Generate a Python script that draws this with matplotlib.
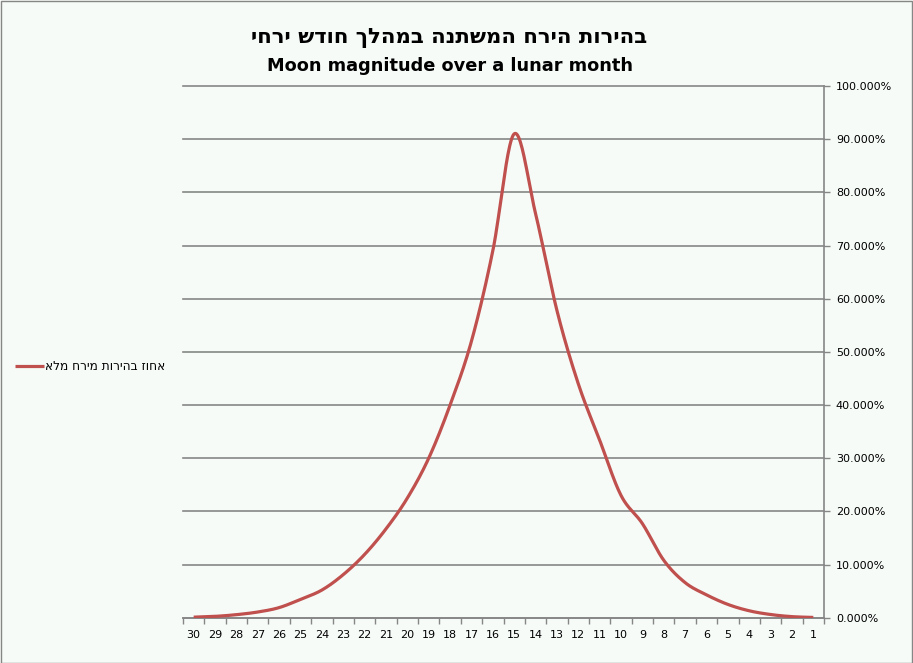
import numpy as np
import matplotlib
matplotlib.use("Agg")
import matplotlib.pyplot as plt
from matplotlib.ticker import FixedLocator, FuncFormatter

# Chart texts (Hebrew kept in logical order, reversed only for drawing)
TITLE_HE = "בהירות הירח המשתנה במהלך חודש ירחי"
TITLE_EN = "Moon magnitude over a lunar month"
SERIES_NAME = "אחוז בהירות מירח מלא"

# Days of the lunar month, shown from 30 down to 1
days = [30, 29, 28, 27, 26, 25, 24, 23, 22, 21, 20, 19, 18, 17, 16,
        15, 14, 13, 12, 11, 10, 9, 8, 7, 6, 5, 4, 3, 2, 1]
# Brightness in percent of full moon, same order as days
brightness = [0.1, 0.25, 0.57, 1.07, 1.9, 3.45, 5.2, 8.1, 11.9, 16.7, 22.5,
              30.0, 40.0, 52.0, 69.0, 91.0, 76.0, 57.8, 44.0, 33.4, 23.0,
              17.7, 10.8, 6.6, 4.3, 2.5, 1.3, 0.6, 0.2, 0.05]
y_ticks = [0, 10, 20, 30, 40, 50, 60, 70, 80, 90, 100]

BG = "#F6FBF8"
GRID = "#868686"
RED = "#C0504D"


def rtl(s):
    #matplotlib has no bidi support, so flip Hebrew for visual order
    return s[::-1]


def smooth(xs, ys, n=24):
    #Catmull-Rom smoothing, like Excel's "smoothed line" option
    xs = np.asarray(xs, float)
    ys = np.asarray(ys, float)
    px = np.concatenate([[xs[0]], xs, [xs[-1]]])
    py = np.concatenate([[ys[0]], ys, [ys[-1]]])
    out_x, out_y = [], []
    t = np.linspace(0, 1, n, endpoint=False)
    for i in range(1, len(px) - 2):
        for p, out in ((px, out_x), (py, out_y)):
            p0, p1, p2, p3 = p[i - 1], p[i], p[i + 1], p[i + 2]
            out.extend(0.5 * (2 * p1 + (-p0 + p2) * t
                              + (2 * p0 - 5 * p1 + 4 * p2 - p3) * t ** 2
                              + (-p0 + 3 * p1 - 3 * p2 + p3) * t ** 3))
    out_x.append(xs[-1])
    out_y.append(ys[-1])
    return np.array(out_x), np.array(out_y)


W, H = 913, 663
fig = plt.figure(figsize=(W / 100, H / 100), dpi=100, facecolor=BG)
ax = fig.add_axes([183 / W, 45.3 / H, (824 - 183) / W, (617.7 - 86) / H])
ax.set_facecolor(BG)

pos = np.arange(len(days))
sx, sy = smooth(pos, brightness)
line, = ax.plot(sx, sy, color=RED, lw=2.3, solid_capstyle="butt", zorder=3)

ax.set_xlim(-0.5, len(days) - 0.5)
ax.set_ylim(0, 100)

#Category labels centred, tick marks on the boundaries
ax.xaxis.set_major_locator(FixedLocator(np.arange(-0.5, len(days), 1.0)))
ax.xaxis.set_major_formatter(FuncFormatter(lambda v, p: ""))
ax.xaxis.set_minor_locator(FixedLocator(pos))
ax.xaxis.set_minor_formatter(FuncFormatter(lambda v, p: str(days[int(round(v))])))
ax.tick_params(axis="x", which="major", length=4, width=1, color=GRID, direction="out")
ax.tick_params(axis="x", which="minor", length=0, pad=9, labelsize=8)

#Value axis on the right
ax.yaxis.tick_right()
ax.set_yticks(y_ticks)
ax.yaxis.set_major_formatter(FuncFormatter(lambda v, p: f"{v:.3f}%"))
ax.tick_params(axis="y", length=4.5, width=1, color=GRID, pad=4, labelsize=8)
ax.grid(axis="y", color=GRID, lw=1.2, zorder=1)
for gl in ax.get_ygridlines():
    gl.set_clip_on(False) #keep the 100% line full width

for side in ("top", "left"):
    ax.spines[side].set_visible(False)
for side in ("bottom", "right"):
    ax.spines[side].set_color(GRID)
    ax.spines[side].set_linewidth(1.2)

#Titles
fig.text(449 / W, 1 - 38 / H, rtl(TITLE_HE), ha="center", va="center",
         fontsize=15.3, fontweight="bold", family="DejaVu Sans")
fig.text(450 / W, 1 - 66 / H, TITLE_EN, ha="center", va="center",
         fontsize=12.8, fontweight="bold", family="DejaVu Sans")

#Legend on the left, no frame
leg = fig.legend([line], [rtl(SERIES_NAME)], loc="center left",
                 bbox_to_anchor=(4 / W, 1 - 367 / H), frameon=False,
                 fontsize=8.7, handlelength=2.4, handletextpad=0.1)

#Thin grey border round the whole chart
fig.add_artist(plt.Rectangle((0.5 / W, 0.5 / H), 1 - 1.2 / W, 1 - 1.2 / H,
                             transform=fig.transFigure, fill=False,
                             edgecolor=GRID, lw=1))

fig.savefig("out.png", dpi=100, facecolor=BG)
